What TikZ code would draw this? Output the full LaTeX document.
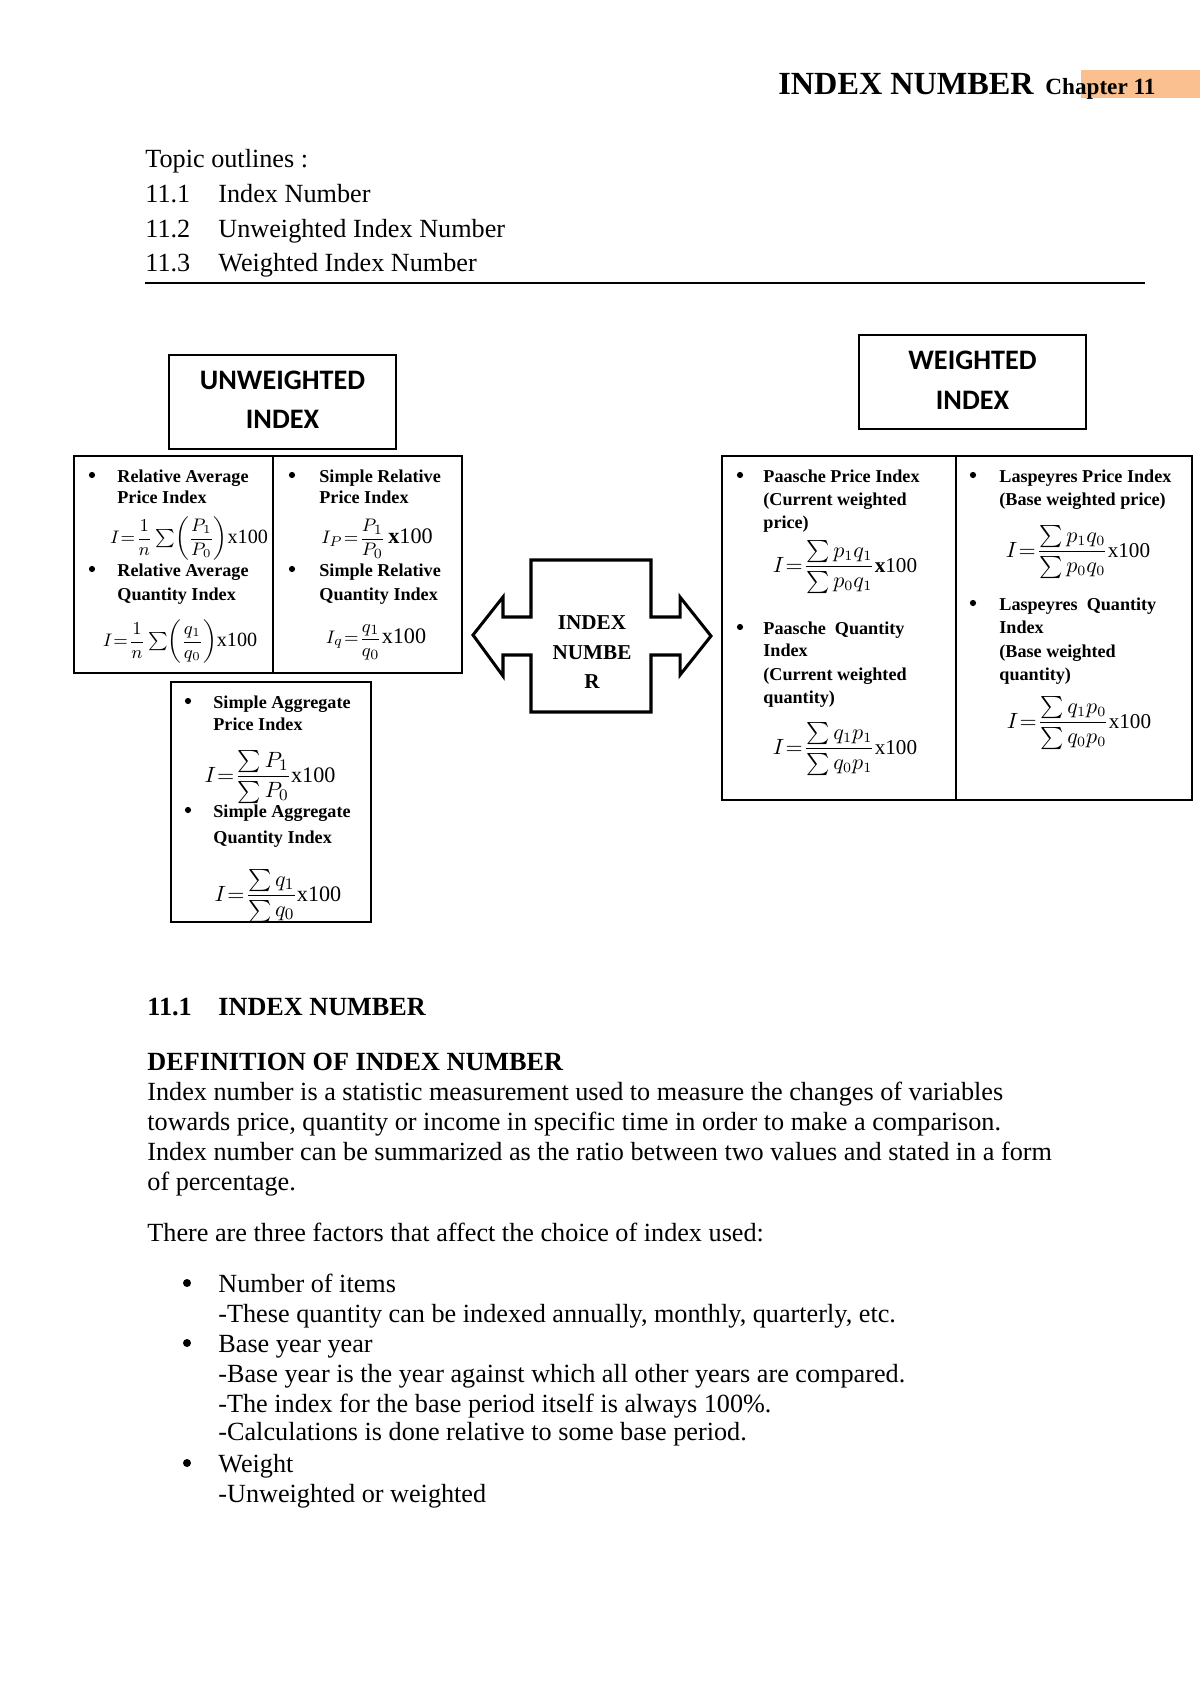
\documentclass[tikz,border=0pt]{standalone}
\usepackage{amsmath}
\usepackage{fontspec}
\setmainfont{Liberation Serif}
\newfontfamily\carlito{Carlito}
\definecolor{peach}{HTML}{FAC090}
\newcommand{\tightmath}{\thickmuskip=1mu\medmuskip=1mu}
\begin{document}
\begin{tikzpicture}[x=0.49608pt,y=-0.49608pt,
  box/.style={line width=1.2pt},
  hdr/.style={font=\fontsize{16}{19}\selectfont\bfseries, anchor=base west, inner sep=0pt},
  chap/.style={font=\fontsize{11.5}{14}\selectfont\bfseries, anchor=base west, inner sep=0pt},
  topic/.style={font=\fontsize{13}{15}\selectfont, anchor=base west, inner sep=0pt},
  body/.style={font=\fontsize{13}{15}\selectfont, anchor=base west, inner sep=0pt},
  bodyb/.style={font=\fontsize{13}{15}\selectfont\bfseries, anchor=base west, inner sep=0pt},
  cell/.style={font=\fontsize{9}{11}\selectfont\bfseries, anchor=base west, inner sep=0pt},
  fml/.style={font=\fontsize{10}{12}\selectfont\tightmath, anchor=center, inner sep=0pt},
  btitle/.style={font=\carlito\bfseries\fontsize{14}{17}\selectfont, anchor=base, inner sep=0pt},
  ctext/.style={font=\fontsize{10.5}{13}\selectfont\bfseries, anchor=base, inner sep=0pt}
]
\useasboundingbox (0,0) rectangle (1200,1698);
\fill[white] (0,0) rectangle (1200,1698);

% header
\fill[peach] (1081,70) rectangle (1200,98);
\node[hdr] (h1) at (778,95) {INDEX NUMBER};
\node[chap] (h2) at (1045,95) {Chapter 11};

% topic outlines
\node[topic] (t0) at (145,168) {Topic outlines :};
\node[topic] (t1a) at (145,203) {11.1};
\node[topic] (t1b) at (218,203) {Index Number};
\node[topic] (t2a) at (145,238) {11.2};
\node[topic] (t2b) at (218,238) {Unweighted Index Number};
\node[topic] (t3a) at (145,272) {11.3};
\node[topic] (t3b) at (218,272) {Weighted Index Number};
\draw[line width=1.2pt] (145,283) -- (1145,283);

% UNWEIGHTED box
\draw[box] (169,355) rectangle (396,449);
\node[btitle] (u1) at (282.5,390) {UNWEIGHTED};
\node[btitle] (u2) at (282.5,429) {INDEX};

% left big box
\draw[box] (74,456) rectangle (462,673);
\draw[box] (273,456) -- (273,673);
\fill (92,475) circle (3.1);
\node[cell] (l1) at (117,482) {Relative Average};
\node[cell] (l2) at (117,503) {Price Index};
\node[fml, font=\fontsize{9}{11}\selectfont\tightmath] (lf1) at (189,539) {$I=\dfrac{1}{n}\sum\!\left(\dfrac{P_1}{P_0}\right)$\fontsize{10}{12}\selectfont x100};
\fill (92,569) circle (3.1);
\node[cell] (l3) at (117,576) {Relative Average};
\node[cell] (l4) at (117,600) {Quantity Index};
\node[fml, font=\fontsize{9}{11}\selectfont\tightmath] (lf2) at (180,642) {$I=\dfrac{1}{n}\sum\!\left(\dfrac{q_1}{q_0}\right)$\fontsize{10}{12}\selectfont x100};

\fill (292,475) circle (3.1);
\node[cell] (r1) at (319,482) {Simple Relative};
\node[cell] (r2) at (319,503) {Price Index};
\node[fml, font=\fontsize{9.5}{12}\selectfont\tightmath] (rf1) at (377,539) {$I_P=\dfrac{P_1}{P_0}$\,\fontsize{11}{13}\selectfont\textbf{x}100};
\fill (292,569) circle (3.1);
\node[cell] (r3) at (319,576) {Simple Relative};
\node[cell] (r4) at (319,600) {Quantity Index};
\node[fml, font=\fontsize{9.5}{12}\selectfont\tightmath] (rf2) at (376,642) {$I_q=\dfrac{q_1}{q_0}$\fontsize{11}{13}\selectfont x100};

% aggregate box
\draw[box] (171,682) rectangle (371,922);
\fill (188,701) circle (3.1);
\node[cell] (a1) at (213,708) {Simple Aggregate};
\node[cell] (a2) at (213,730) {Price Index};
\node[fml, font=\fontsize{11}{13}\selectfont\tightmath] (af1) at (270,777) {$I=\dfrac{\sum P_1}{\sum P_0}$x100};
\fill (188,810) circle (3.1);
\node[cell] (a3) at (213,817) {Simple Aggregate};
\node[cell] (a4) at (213,843) {Quantity Index};
\node[fml, font=\fontsize{11}{13}\selectfont\tightmath] (af2) at (278,896) {$I=\dfrac{\sum q_1}{\sum q_0}$x100};

% centre double arrow
\draw[line width=1.5pt, line join=miter]
  (473,635) -- (503,597) -- (503,617) -- (531,617) -- (531,560) -- (651,560)
  -- (651,617) -- (680,617) -- (680,597) -- (711,636) -- (680,675) -- (680,655)
  -- (651,655) -- (651,712) -- (531,712) -- (531,655) -- (503,655) -- (503,676) -- cycle;
\node[ctext] (c1) at (592,629) {INDEX};
\node[ctext] (c2) at (592,659) {NUMBE};
\node[ctext] (c3) at (592,688) {R};

% WEIGHTED box
\draw[box] (859,335) rectangle (1086,429);
\node[btitle] (w1) at (972.5,370) {WEIGHTED};
\node[btitle] (w2) at (972.5,410) {INDEX};

% right big box
\draw[box] (722,456) rectangle (1192,800);
\draw[box] (956,456) -- (956,800);
\fill (740,475) circle (3.1);
\node[cell] (p1) at (763,482) {Paasche Price Index};
\node[cell] (p2) at (763,505) {(Current weighted};
\node[cell] (p3) at (763,528) {price)};
\node[fml, font=\fontsize{10.5}{13}\selectfont\tightmath] (pf1) at (845,567) {$I=\dfrac{\sum p_1q_1}{\sum p_0q_1}$\textbf{x}100};
\fill (740,627) circle (3.1);
\node[cell] (p4) at (763,634) {Paasche\ \ Quantity};
\node[cell] (p5) at (763,656) {Index};
\node[cell] (p6) at (763,680) {(Current weighted};
\node[cell] (p7) at (763,703) {quantity)};
\node[fml, font=\fontsize{10.5}{13}\selectfont\tightmath] (pf2) at (845,749) {$I=\dfrac{\sum q_1p_1}{\sum q_0p_1}$x100};

\fill (973,475) circle (3.1);
\node[cell] (q1) at (999,482) {Laspeyres Price Index};
\node[cell] (q2) at (999,505) {(Base weighted price)};
\node[fml, font=\fontsize{10.5}{13}\selectfont\tightmath] (qf1) at (1078,552) {$I=\dfrac{\sum p_1q_0}{\sum p_0q_0}$x100};
\fill (973,603) circle (3.1);
\node[cell] (q3) at (999,610) {Laspeyres\ \ Quantity};
\node[cell] (q4) at (999,633) {Index};
\node[cell] (q5) at (999,657) {(Base weighted};
\node[cell] (q6) at (999,680) {quantity)};
\node[fml, font=\fontsize{10.5}{13}\selectfont\tightmath] (qf2) at (1079,723) {$I=\dfrac{\sum q_1p_0}{\sum q_0p_0}$x100};

% bottom text
\node[bodyb] (s1a) at (147,1015) {11.1};
\node[bodyb] (s1b) at (218,1015) {INDEX NUMBER};
\node[bodyb] (d0) at (147,1070) {DEFINITION OF INDEX NUMBER};
\node[body] (d1) at (147,1100) {Index number is a statistic measurement used to measure the changes of variables};
\node[body] (d2) at (147,1130) {towards price, quantity or income in specific time in order to make a comparison.};
\node[body] (d3) at (147,1160) {Index number can be summarized as the ratio between two values and stated in a form};
\node[body] (d4) at (147,1190) {of percentage.};
\node[body] (f0) at (147,1241) {There are three factors that affect the choice of index used:};
\fill (187,1283) circle (4);
\node[body] (f1) at (218,1292) {Number of items};
\node[body] (f2) at (218,1322) {-These quantity can be indexed annually, monthly, quarterly, etc.};
\fill (187,1343) circle (4);
\node[body] (f3) at (218,1352) {Base year year};
\node[body] (f4) at (218,1382) {-Base year is the year against which all other years are compared.};
\node[body] (f5) at (218,1412) {-The index for the base period itself is always 100\%.};
\node[body] (f6) at (218,1440) {-Calculations is done relative to some base period.};
\fill (187,1463) circle (4);
\node[body] (f7) at (218,1472) {Weight};
\node[body] (f8) at (218,1502) {-Unweighted or weighted};
\end{tikzpicture}
\end{document}
